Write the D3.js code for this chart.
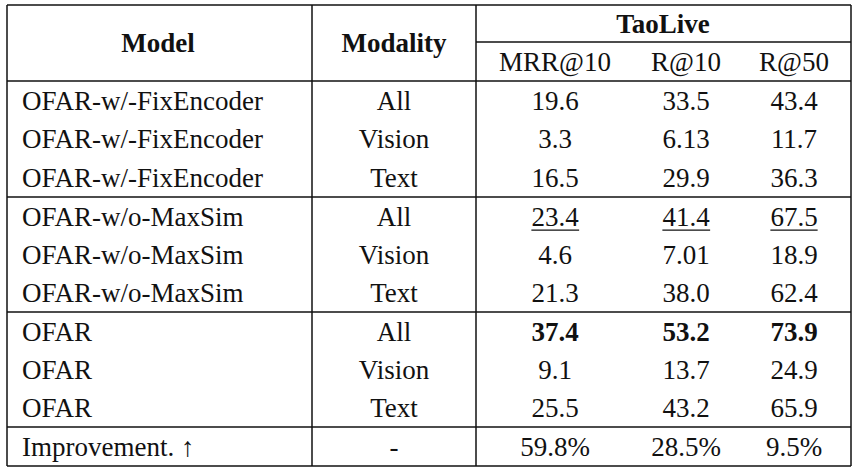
<!DOCTYPE html>
<html><head><meta charset="utf-8">
<script src="https://cdn.jsdelivr.net/npm/d3@7"></script>
<style>body{margin:0;background:#fff} text{font-family:"Liberation Serif","Times New Roman","DejaVu Serif Condensed","DejaVu Serif",serif}</style>
</head><body><svg id="chart"></svg>
<script>
const models = ["OFAR-w/-FixEncoder","OFAR-w/-FixEncoder","OFAR-w/-FixEncoder","OFAR-w/o-MaxSim","OFAR-w/o-MaxSim","OFAR-w/o-MaxSim","OFAR","OFAR","OFAR","Improvement. \u2191"];
const modalities = ["All","Vision","Text","All","Vision","Text","All","Vision","Text","-"];
const metrics = ["MRR@10","R@10","R@50"];
const mrr10 = ["19.6","3.3","16.5","23.4","4.6","21.3","37.4","9.1","25.5","59.8%"];
const r10 = ["33.5","6.13","29.9","41.4","7.01","38.0","53.2","13.7","43.2","28.5%"];
const r50 = ["43.4","11.7","36.3","67.5","18.9","62.4","73.9","24.9","65.9","9.5%"];
const boldRow = 6, underlineRow = 3;

const W = 856, H = 471;
const svg = d3.select("#chart").attr("width", W).attr("height", H);

// group bounds (header bottom, group rules, table bottom)
const bounds = [81, 197, 312, 427, 466];
function rowY(i) {
  const g = i < 9 ? Math.floor(i / 3) : 3;
  const n = g < 3 ? 3 : 1;
  const k = g < 3 ? i % 3 : 0;
  const h = (bounds[g + 1] - bounds[g]) / n;
  return bounds[g] + h * (k + 0.5);
}

const xm = {"MRR@10": 555, "R@10": 686, "R@50": 794};

const line = (x1, y1, x2, y2, w) => svg.append("line")
  .attr("x1", x1).attr("y1", y1).attr("x2", x2).attr("y2", y2)
  .attr("stroke", "#111").attr("stroke-width", w || 1.5);

// frame and rules
line(7, 5, 851, 5); line(7, 466, 851, 466);
line(7, 5, 7, 466); line(851, 5, 851, 466);
line(312, 5, 312, 466); line(476, 5, 476, 466);
line(476, 42, 851, 42);
line(7, 81, 851, 81);
bounds.slice(1, 4).forEach(b => line(7, b, 851, b));

const txt = (s, tx, ty, anchor, bold) => svg.append("text")
  .attr("x", tx).attr("y", ty).attr("dy", "0.35em")
  .attr("text-anchor", anchor)
  .attr("font-size", 27).attr("font-weight", bold ? "bold" : "normal")
  .attr("fill", "#111").text(s);

// header
txt("Model", 158, 43, "middle", true);
txt("Modality", 394, 43, "middle", true);
txt("TaoLive", 663, 24, "middle", true);
metrics.forEach(m => txt(m, xm[m], 62, "middle"));

// body
const cols = [mrr10, r10, r50];
models.forEach((m, i) => {
  const cy = rowY(i);
  txt(m, 22, cy, "start");
  txt(modalities[i], 394, cy, "middle");
  cols.forEach((c, j) => {
    const t = txt(c[i], xm[metrics[j]], cy, "middle", i === boldRow);
    if (i === underlineRow) {
      const bb = t.node().getBBox();
      line(bb.x, cy + 14, bb.x + bb.width, cy + 14, 1.3);
    }
  });
});
</script></body></html>
